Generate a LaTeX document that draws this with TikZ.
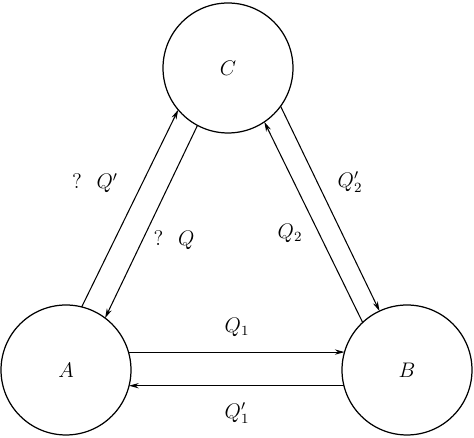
\documentclass[tikz,border=0pt]{standalone}
\usetikzlibrary{arrows.meta}
\begin{document}
\begin{tikzpicture}[x=0.02cm, y=0.02cm,
		reservoir/.style={draw, circle, line width=0.7pt, minimum size=2.6cm, inner sep=0pt, outer sep=0pt, font=\large},
		flow/.style={line width=0.6pt, -{Stealth[length=5.5pt, width=3pt]}},
		lbl/.style={inner sep=0pt, font=\large}]
			%%%%% START %%%%%
			
			\useasboundingbox (0, 0) rectangle (474, 438);
			
			\node[reservoir] (A) at (66, 68) {$A$};
			\node[reservoir] (B) at (407, 68) {$B$};
			\node[reservoir] (C) at (228, 370) {$C$};
			
			\draw[flow] (A.16) -- (B.164);
			\draw[flow] (B.194) -- (A.-14);
			\node[lbl] (q1) at (237, 111) {$Q_1$};
			\node[lbl] (q1p) at (237, 25) {$Q_1'$};
			
			\draw[flow] (A.76) -- (C.-140);
			\draw[flow] (C.-118) -- (A.53);
			\node[lbl] (qp) at (95, 255) {$?\hspace{0.7em}Q'$};
			\node[lbl] (q) at (174, 198) {$?\hspace{0.7em}Q$};
			
			\draw[flow] (B.133) -- (C.-56);
			\draw[flow] (C.-36) -- (B.115);
			\node[lbl] (q2p) at (350, 256) {$Q_2'$};
			\node[lbl] (q2) at (290, 205) {$Q_2$};
			
			%%%%% END %%%%%
		\end{tikzpicture}
\end{document}
